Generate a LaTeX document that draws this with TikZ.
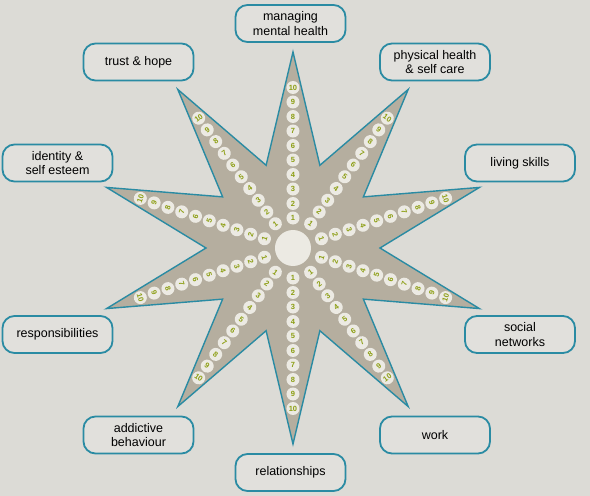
\documentclass[tikz,border=0pt]{standalone}
\usepackage{fontspec}
\setmainfont{Liberation Sans}
\usepackage{xcolor}
\definecolor{paper}{RGB}{220,219,214}
\definecolor{starbeige}{RGB}{181,174,159}
\definecolor{dotwhite}{RGB}{236,234,227}
\definecolor{numgreen}{RGB}{140,158,18}
\definecolor{rimteal}{RGB}{42,139,163}
\definecolor{boxpaper}{RGB}{225,224,220}
\tikzset{
	topic/.style={
			draw=rimteal, line width=1.8pt, fill=boxpaper, rounded corners=12pt,
			minimum width=110pt, minimum height=37pt, align=center,
			font=\fontsize{12.5}{14.5}\selectfont
		},
	numdot/.style={
			circle, fill=dotwhite, minimum size=13pt, inner sep=0pt,
			text=numgreen, font=\fontsize{7.5}{7.5}\selectfont\bfseries
		},
	starbody/.style={fill=starbeige, draw=rimteal, line width=1.4pt}
}

\begin{document}
\begin{tikzpicture}[x=1pt, y=1pt]
		% Background
		\fill[paper] (-293,-248) rectangle (297,248);
		\useasboundingbox (-293,-248) rectangle (297,248);

		% Star
		\draw[starbody] (90:196) -- (72:87)
		\foreach \a in {54,18,...,-234} { -- (\a:196) -- ({\a-18}:87) } -- cycle;

		% Hub
		\node[circle, fill=dotwhite, minimum size=36pt, inner sep=0pt] (hub) at (0,0) {};

		% Scales 1 to 10 along the arms (upper arms)
		\foreach \a [count=\i] in {90,54,18,-198,-234}
		\foreach \n in {1,...,10}
		\node[numdot, rotate=\a-90] (up-\i-\n) at (\a:{30+14.5*(\n-1)}) {\n};

		% Scales 1 to 10 along the arms (lower arms)
		\foreach \a [count=\i] in {-18,-54,-90,-126,-162}
		\foreach \n in {1,...,10}
		\node[numdot, rotate=\a+90] (low-\i-\n) at (\a:{30+14.5*(\n-1)}) {\n};

		% Topics
		\node[topic] (mental) at (-2.5,224.5) {managing\\mental health};
		\node[topic] (physical) at (142,186) {physical health\\\& self care};
		\node[topic] (living) at (227,85) {living skills};
		\node[topic] (social) at (227,-86.5) {social\\networks};
		\node[topic] (work) at (142,-187) {work};
		\node[topic] (relations) at (-2.5,-224.5) {relationships};
		\node[topic] (addictive) at (-154.5,-187) {addictive\\behaviour};
		\node[topic] (respons) at (-235.5,-86.5) {responsibilities};
		\node[topic] (identity) at (-235.5,85) {identity \&\\self esteem};
		\node[topic] (trust) at (-154.5,186) {trust \& hope};
	\end{tikzpicture}
\end{document}
